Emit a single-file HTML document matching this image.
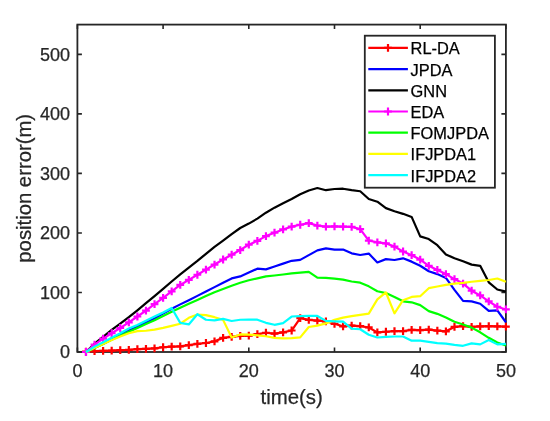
<!DOCTYPE html>
<html><head><meta charset="utf-8"><title>position error</title>
<style>html,body{margin:0;padding:0;background:#fff;width:550px;height:421px;overflow:hidden}svg{display:block}</style>
</head><body>
<svg width="550" height="421" viewBox="0 0 550 421">
<rect width="550" height="421" fill="#fff"/>
<rect x="77.4" y="24.6" width="428.5" height="327.4" fill="#fff"/>
<path d="M77.40,352.0V347.5M77.40,24.6V29.1M163.10,352.0V347.5M163.10,24.6V29.1M248.80,352.0V347.5M248.80,24.6V29.1M334.50,352.0V347.5M334.50,24.6V29.1M420.20,352.0V347.5M420.20,24.6V29.1M505.90,352.0V347.5M505.90,24.6V29.1M77.4,352.00H81.9M505.9,352.00H501.4M77.4,292.47H81.9M505.9,292.47H501.4M77.4,232.95H81.9M505.9,232.95H501.4M77.4,173.42H81.9M505.9,173.42H501.4M77.4,113.89H81.9M505.9,113.89H501.4M77.4,54.36H81.9M505.9,54.36H501.4" stroke="#262626" stroke-width="1.6" fill="none"/>
<rect x="77.4" y="24.6" width="428.5" height="327.4" fill="none" stroke="#262626" stroke-width="1.8"/>
<g><polyline points="85.97,351.70 94.54,351.11 103.11,350.81 111.68,350.57 120.25,350.15 128.82,349.80 137.39,349.14 145.96,348.79 154.53,348.37 163.10,347.24 171.67,346.58 180.24,346.40 188.81,345.15 197.38,343.90 205.95,343.01 214.52,341.34 223.09,337.89 231.66,336.88 240.23,335.93 248.80,335.57 257.37,334.08 265.94,332.77 274.51,333.67 283.08,332.42 291.65,330.51 300.22,318.19 308.79,319.86 317.36,320.57 325.93,321.28 334.50,323.78 343.07,326.40 351.64,325.63 360.21,326.11 368.78,327.47 377.35,332.36 385.92,331.76 394.49,331.17 403.06,331.17 411.63,329.86 420.20,330.03 428.77,329.56 437.34,330.69 445.91,331.28 454.48,326.94 463.05,326.17 471.62,326.94 480.19,326.46 488.76,326.17 497.33,326.46 505.90,326.64" fill="none" stroke="#ff0000" stroke-width="2.2" stroke-linejoin="round" stroke-linecap="butt"/><path d="M82.07,351.70H89.87M85.97,347.80V355.60M90.64,351.11H98.44M94.54,347.21V355.01M99.21,350.81H107.01M103.11,346.91V354.71M107.78,350.57H115.58M111.68,346.67V354.47M116.35,350.15H124.15M120.25,346.25V354.05M124.92,349.80H132.72M128.82,345.90V353.70M133.49,349.14H141.29M137.39,345.24V353.04M142.06,348.79H149.86M145.96,344.89V352.69M150.63,348.37H158.43M154.53,344.47V352.27M159.20,347.24H167.00M163.10,343.34V351.14M167.77,346.58H175.57M171.67,342.68V350.48M176.34,346.40H184.14M180.24,342.50V350.30M184.91,345.15H192.71M188.81,341.25V349.05M193.48,343.90H201.28M197.38,340.00V347.80M202.05,343.01H209.85M205.95,339.11V346.91M210.62,341.34H218.42M214.52,337.44V345.24M219.19,337.89H226.99M223.09,333.99V341.79M227.76,336.88H235.56M231.66,332.98V340.78M236.33,335.93H244.13M240.23,332.03V339.83M244.90,335.57H252.70M248.80,331.67V339.47M253.47,334.08H261.27M257.37,330.18V337.98M262.04,332.77H269.84M265.94,328.87V336.67M270.61,333.67H278.41M274.51,329.77V337.57M279.18,332.42H286.98M283.08,328.52V336.32M287.75,330.51H295.55M291.65,326.61V334.41M296.32,318.19H304.12M300.22,314.29V322.09M304.89,319.86H312.69M308.79,315.96V323.76M313.46,320.57H321.26M317.36,316.67V324.47M322.03,321.28H329.83M325.93,317.38V325.18M330.60,323.78H338.40M334.50,319.88V327.68M339.17,326.40H346.97M343.07,322.50V330.30M347.74,325.63H355.54M351.64,321.73V329.53M356.31,326.11H364.11M360.21,322.21V330.01M364.88,327.47H372.68M368.78,323.57V331.37M373.45,332.36H381.25M377.35,328.46V336.26M382.02,331.76H389.82M385.92,327.86V335.66M390.59,331.17H398.39M394.49,327.27V335.07M399.16,331.17H406.96M403.06,327.27V335.07M407.73,329.86H415.53M411.63,325.96V333.76M416.30,330.03H424.10M420.20,326.13V333.93M424.87,329.56H432.67M428.77,325.66V333.46M433.44,330.69H441.24M437.34,326.79V334.59M442.01,331.28H449.81M445.91,327.38V335.18M450.58,326.94H458.38M454.48,323.04V330.84M459.15,326.17H466.95M463.05,322.27V330.07M467.72,326.94H475.52M471.62,323.04V330.84M476.29,326.46H484.09M480.19,322.56V330.36M484.86,326.17H492.66M488.76,322.27V330.07M493.43,326.46H501.23M497.33,322.56V330.36M502.00,326.64H509.80M505.90,322.74V330.54" stroke="#ff0000" stroke-width="2.2" fill="none"/><polyline points="85.97,352.00 94.54,347.83 103.11,343.67 111.68,339.20 120.25,334.74 128.82,330.57 137.39,326.40 145.96,322.53 154.53,318.37 163.10,313.60 171.67,308.84 180.24,304.38 188.81,300.21 197.38,295.87 205.95,291.52 214.52,287.12 223.09,282.77 231.66,278.42 240.23,276.40 248.80,272.59 257.37,268.66 265.94,269.38 274.51,266.52 283.08,263.66 291.65,260.80 300.22,259.85 308.79,255.09 317.36,250.39 325.93,248.42 334.50,249.61 343.07,249.61 351.64,253.30 360.21,254.97 368.78,253.60 377.35,262.41 385.92,259.14 394.49,259.97 403.06,258.30 411.63,261.64 420.20,265.80 428.77,271.28 437.34,274.08 445.91,277.89 454.48,289.91 463.05,300.81 471.62,301.40 480.19,303.78 488.76,310.93 497.33,310.33 505.90,322.24" fill="none" stroke="#0000ff" stroke-width="2.2" stroke-linejoin="round" stroke-linecap="butt"/><polyline points="85.97,352.00 94.54,343.67 103.11,336.82 111.68,329.97 120.25,323.72 128.82,317.18 137.39,310.33 145.96,303.19 154.53,296.04 163.10,288.90 171.67,281.46 180.24,274.32 188.81,267.65 197.38,260.92 205.95,253.78 214.52,246.93 223.09,240.68 231.66,234.14 240.23,228.00 248.80,223.60 257.37,218.66 265.94,212.71 274.51,207.65 283.08,203.18 291.65,199.01 300.22,194.25 308.79,190.44 317.36,188.00 325.93,190.20 334.50,189.01 343.07,188.72 351.64,190.20 360.21,191.28 368.78,199.01 377.35,201.69 385.92,208.12 394.49,211.22 403.06,213.84 411.63,216.93 420.20,236.40 428.77,239.02 437.34,245.21 445.91,254.38 454.48,258.30 463.05,261.28 471.62,264.61 480.19,265.80 488.76,282.35 497.33,289.50 505.90,291.64" fill="none" stroke="#000000" stroke-width="2.2" stroke-linejoin="round" stroke-linecap="butt"/><polyline points="85.97,352.00 94.54,344.56 103.11,338.61 111.68,333.25 120.25,328.01 128.82,322.41 137.39,316.52 145.96,310.63 154.53,304.08 163.10,297.83 171.67,291.40 180.24,284.97 188.81,279.85 197.38,274.73 205.95,269.67 214.52,264.55 223.09,259.49 231.66,254.67 240.23,250.03 248.80,244.67 257.37,240.86 265.94,236.10 274.51,232.71 283.08,229.43 291.65,226.64 300.22,224.73 308.79,223.12 317.36,225.56 325.93,226.64 334.50,226.40 343.07,226.64 351.64,226.87 360.21,229.08 368.78,240.68 377.35,242.29 385.92,243.30 394.49,246.64 403.06,251.52 411.63,255.15 420.20,259.55 428.77,265.80 437.34,269.91 445.91,274.08 454.48,279.08 463.05,283.54 471.62,290.69 480.19,295.45 488.76,301.40 497.33,306.76 505.90,309.44" fill="none" stroke="#ff00ff" stroke-width="2.2" stroke-linejoin="round" stroke-linecap="butt"/><path d="M82.07,352.00H89.87M85.97,348.10V355.90M90.64,344.56H98.44M94.54,340.66V348.46M99.21,338.61H107.01M103.11,334.71V342.51M107.78,333.25H115.58M111.68,329.35V337.15M116.35,328.01H124.15M120.25,324.11V331.91M124.92,322.41H132.72M128.82,318.51V326.31M133.49,316.52H141.29M137.39,312.62V320.42M142.06,310.63H149.86M145.96,306.73V314.53M150.63,304.08H158.43M154.53,300.18V307.98M159.20,297.83H167.00M163.10,293.93V301.73M167.77,291.40H175.57M171.67,287.50V295.30M176.34,284.97H184.14M180.24,281.07V288.87M184.91,279.85H192.71M188.81,275.95V283.75M193.48,274.73H201.28M197.38,270.83V278.63M202.05,269.67H209.85M205.95,265.77V273.57M210.62,264.55H218.42M214.52,260.65V268.45M219.19,259.49H226.99M223.09,255.59V263.39M227.76,254.67H235.56M231.66,250.77V258.57M236.33,250.03H244.13M240.23,246.13V253.93M244.90,244.67H252.70M248.80,240.77V248.57M253.47,240.86H261.27M257.37,236.96V244.76M262.04,236.10H269.84M265.94,232.20V240.00M270.61,232.71H278.41M274.51,228.81V236.61M279.18,229.43H286.98M283.08,225.53V233.33M287.75,226.64H295.55M291.65,222.74V230.54M296.32,224.73H304.12M300.22,220.83V228.63M304.89,223.12H312.69M308.79,219.22V227.02M313.46,225.56H321.26M317.36,221.66V229.46M322.03,226.64H329.83M325.93,222.74V230.54M330.60,226.40H338.40M334.50,222.50V230.30M339.17,226.64H346.97M343.07,222.74V230.54M347.74,226.87H355.54M351.64,222.97V230.77M356.31,229.08H364.11M360.21,225.18V232.98M364.88,240.68H372.68M368.78,236.78V244.58M373.45,242.29H381.25M377.35,238.39V246.19M382.02,243.30H389.82M385.92,239.40V247.20M390.59,246.64H398.39M394.49,242.74V250.54M399.16,251.52H406.96M403.06,247.62V255.42M407.73,255.15H415.53M411.63,251.25V259.05M416.30,259.55H424.10M420.20,255.65V263.45M424.87,265.80H432.67M428.77,261.90V269.70M433.44,269.91H441.24M437.34,266.01V273.81M442.01,274.08H449.81M445.91,270.18V277.98M450.58,279.08H458.38M454.48,275.18V282.98M459.15,283.54H466.95M463.05,279.64V287.44M467.72,290.69H475.52M471.62,286.79V294.59M476.29,295.45H484.09M480.19,291.55V299.35M484.86,301.40H492.66M488.76,297.50V305.30M493.43,306.76H501.23M497.33,302.86V310.66M502.00,309.44H509.80M505.90,305.54V313.34" stroke="#ff00ff" stroke-width="2.2" fill="none"/><polyline points="85.97,352.00 94.54,348.13 103.11,343.96 111.68,339.80 120.25,335.63 128.82,331.76 137.39,327.89 145.96,324.02 154.53,320.15 163.10,315.99 171.67,311.82 180.24,307.65 188.81,303.78 197.38,299.91 205.95,296.04 214.52,292.23 223.09,289.02 231.66,285.69 240.23,282.77 248.80,280.27 257.37,278.42 265.94,276.40 274.51,275.51 283.08,274.50 291.65,273.42 300.22,272.59 308.79,271.82 317.36,277.59 325.93,277.89 334.50,278.54 343.07,279.56 351.64,281.52 360.21,282.65 368.78,286.34 377.35,291.22 385.92,293.07 394.49,296.94 403.06,301.34 411.63,302.29 420.20,305.15 428.77,311.10 437.34,313.84 445.91,317.47 454.48,321.82 463.05,324.44 471.62,327.65 480.19,332.30 488.76,337.83 497.33,342.48 505.90,345.45" fill="none" stroke="#00ff00" stroke-width="2.2" stroke-linejoin="round" stroke-linecap="butt"/><polyline points="85.97,352.00 94.54,347.83 103.11,343.96 111.68,340.09 120.25,336.52 128.82,333.25 137.39,331.17 145.96,330.75 154.53,329.68 163.10,327.89 171.67,325.81 180.24,323.72 188.81,317.83 197.38,314.62 205.95,315.09 214.52,317.18 223.09,319.86 231.66,337.53 240.23,334.44 248.80,334.56 257.37,335.33 265.94,336.23 274.51,337.89 283.08,338.31 291.65,338.13 300.22,337.42 308.79,327.00 317.36,325.63 325.93,323.43 334.50,319.86 343.07,317.65 351.64,316.16 360.21,314.80 368.78,313.60 377.35,299.44 385.92,292.47 394.49,313.31 403.06,300.21 411.63,296.94 420.20,296.22 428.77,288.19 437.34,286.52 445.91,284.91 454.48,283.54 463.05,282.95 471.62,281.76 480.19,280.86 488.76,279.97 497.33,278.48 505.90,281.76" fill="none" stroke="#ffff00" stroke-width="2.2" stroke-linejoin="round" stroke-linecap="butt"/><polyline points="85.97,352.00 94.54,346.64 103.11,342.18 111.68,337.71 120.25,333.25 128.82,328.49 137.39,324.92 145.96,320.75 154.53,316.58 163.10,312.41 171.67,307.95 180.24,322.83 188.81,324.44 197.38,314.26 205.95,319.74 214.52,320.33 223.09,318.84 231.66,320.99 240.23,319.74 248.80,319.68 257.37,319.68 265.94,322.83 274.51,324.80 283.08,323.13 291.65,316.52 300.22,316.16 308.79,315.93 317.36,315.93 325.93,320.87 334.50,321.28 343.07,321.64 351.64,328.55 360.21,329.26 368.78,334.74 377.35,337.48 385.92,336.88 394.49,336.52 403.06,336.52 411.63,340.69 420.20,340.69 428.77,341.88 437.34,343.07 445.91,343.67 454.48,344.86 463.05,345.81 471.62,343.37 480.19,344.38 488.76,340.09 497.33,344.38 505.90,343.96" fill="none" stroke="#00ffff" stroke-width="2.2" stroke-linejoin="round" stroke-linecap="butt"/></g>
<g font-family="Liberation Sans, Arial, sans-serif" font-size="18" fill="#262626" stroke="#262626" stroke-width="0.25"><text x="77.40" y="377" text-anchor="middle">0</text><text x="163.10" y="377" text-anchor="middle">10</text><text x="248.80" y="377" text-anchor="middle">20</text><text x="334.50" y="377" text-anchor="middle">30</text><text x="420.20" y="377" text-anchor="middle">40</text><text x="505.90" y="377" text-anchor="middle">50</text><text x="70" y="358.40" text-anchor="end">0</text><text x="70" y="298.87" text-anchor="end">100</text><text x="70" y="239.35" text-anchor="end">200</text><text x="70" y="179.82" text-anchor="end">300</text><text x="70" y="120.29" text-anchor="end">400</text><text x="70" y="60.76" text-anchor="end">500</text><text x="291.65" y="403.5" text-anchor="middle" font-size="20.4">time(s)</text><text transform="translate(30.6,188.30) rotate(-90)" text-anchor="middle" font-size="20.3">position error(m)</text></g>
<g font-family="Liberation Sans, Arial, sans-serif" font-size="16.4"><rect x="364.8" y="35.7" width="130.09999999999997" height="152.0" fill="#fff" stroke="#262626" stroke-width="1.8"/><path d="M368.3,47.90H407.9" stroke="#ff0000" stroke-width="2.2" fill="none"/><path d="M384.1,47.90H391.9M388,44.00V51.80" stroke="#ff0000" stroke-width="2.2" fill="none"/><text x="410.6" y="54.40" fill="#000" stroke="#000" stroke-width="0.25">RL-DA</text><path d="M368.3,69.10H407.9" stroke="#0000ff" stroke-width="2.2" fill="none"/><text x="410.6" y="75.60" fill="#000" stroke="#000" stroke-width="0.25">JPDA</text><path d="M368.3,90.30H407.9" stroke="#000000" stroke-width="2.2" fill="none"/><text x="410.6" y="96.80" fill="#000" stroke="#000" stroke-width="0.25">GNN</text><path d="M368.3,111.50H407.9" stroke="#ff00ff" stroke-width="2.2" fill="none"/><path d="M384.1,111.50H391.9M388,107.60V115.40" stroke="#ff00ff" stroke-width="2.2" fill="none"/><text x="410.6" y="118.00" fill="#000" stroke="#000" stroke-width="0.25">EDA</text><path d="M368.3,132.70H407.9" stroke="#00ff00" stroke-width="2.2" fill="none"/><text x="410.6" y="139.20" fill="#000" stroke="#000" stroke-width="0.25">FOMJPDA</text><path d="M368.3,153.90H407.9" stroke="#ffff00" stroke-width="2.2" fill="none"/><text x="410.6" y="160.40" fill="#000" stroke="#000" stroke-width="0.25">IFJPDA1</text><path d="M368.3,175.10H407.9" stroke="#00ffff" stroke-width="2.2" fill="none"/><text x="410.6" y="181.60" fill="#000" stroke="#000" stroke-width="0.25">IFJPDA2</text></g>
</svg>
</body></html>
